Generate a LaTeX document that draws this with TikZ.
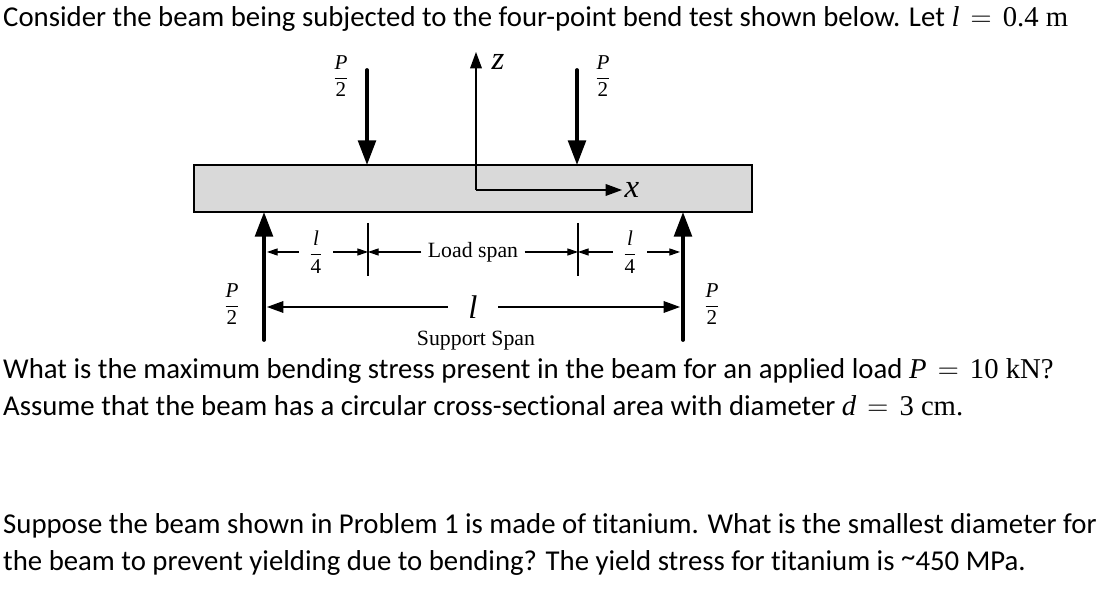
\documentclass[tikz,border=0pt]{standalone}
\usepackage{tkz-euclide}
\usepackage{fontspec}
\usetikzlibrary{arrows.meta}
\setmainfont[Ligatures=NoCommon]{Carlito}
\newfontfamily\serifdgm{Liberation Serif}
\newcommand{\halfP}{$\displaystyle\frac{\hbox{\serifdgm\itshape P}}{\hbox{\serifdgm 2}}$}
\newcommand{\quartl}{$\displaystyle\frac{\hbox{\serifdgm\itshape l}}{\hbox{\serifdgm 4}}$}
\newcommand{\eqtxt}[2]{{\fontsize{24.5}{28}\selectfont\serifdgm\itshape #1\hspace{9.5pt}\upshape$=$\hspace{9.5pt}#2}}
\tikzset{
  line/.style={anchor=base west,inner sep=0pt,font=\fontsize{24.55}{28}\selectfont},
  dgm/.style={inner sep=0pt,font=\fontsize{18}{20}\selectfont\serifdgm},
  span text/.style={inner sep=0pt,font=\fontsize{18.6}{20}\selectfont\serifdgm},
  axis label/.style={inner sep=0pt,font=\fontsize{28}{30}\selectfont\serifdgm\itshape},
  load/.style={line width=3.2pt,line cap=round,-{Triangle[length=21pt,width=15pt]}},
  axis/.style={line width=1.1pt,-{Triangle[length=14pt,width=10pt]}},
  dim/.style={line width=0.9pt,-{Triangle[length=9pt,width=6pt]}},
  span/.style={line width=0.9pt,-{Triangle[length=14pt,width=10pt]}},
  tick/.style={line width=1pt}
}
\begin{document}
\begin{tikzpicture}[x=0.03cm,y=0.03cm]
    \useasboundingbox (0,0) rectangle (1104,600);
    % points, y counted from the bottom
    \tkzDefPoints{367/530/A,367/435/Aa,577/530/B,577/435/Ba,
      264/260/C,264/388/Ca,683/260/D,683/388/Da,
      476/410/O,476/548/Z,622/410/X,
      368/377/E,368/324/Ea,578/377/F,578/324/Fa,
      267/348/G,368/348/Ga,578/348/Ha,680/348/H,
      267/293/I,680/293/J}
    \draw[line width=2.1pt,fill=gray!30] (194,388) rectangle (752,435);
    \draw[load] (A) -- (Aa);
    \draw[load] (B) -- (Ba);
    \draw[load] (C) -- (Ca);
    \draw[load] (D) -- (Da);
    \draw[axis] (O) -- (Z);
    \draw[axis] (O) -- (X);
    \node[axis label] (zlab) at (498,538) {z};
    \node[axis label] (xlab) at (632,410) {x};
    \node[dgm] (pa) at (341,524) {\halfP};
    \node[dgm] (pb) at (603,524) {\halfP};
    \node[dgm] (pc) at (232,296) {\halfP};
    \node[dgm] (pd) at (712,296) {\halfP};
    \draw[tick] (E) -- (Ea);
    \draw[tick] (F) -- (Fa);
    \node[dgm,minimum width=1.02cm] (qa) at (316,348) {\quartl};
    \node[dgm,minimum width=1.02cm] (qb) at (630,348) {\quartl};
    \node[span text,minimum width=3.09cm] (ls) at (473,348) {Load span};
    \node[axis label,minimum width=1.5cm] (ll) at (473,293) {l};
    \node[span text] (ss) at (476,259) {Support Span};
    \draw[dim] (qa.west) -- (G);
    \draw[dim] (qa.east) -- (Ga);
    \draw[dim] (ls.west) -- (Ga);
    \draw[dim] (ls.east) -- (Ha);
    \draw[dim] (qb.west) -- (Ha);
    \draw[dim] (qb.east) -- (H);
    \draw[span] (ll.west) -- (I);
    \draw[span] (ll.east) -- (J);
    \node[line] (t1) at (3,573) {Consider the beam being subjected to the four-point bend test shown below. Let \eqtxt{l}{0.4 m}};
    \node[line] (t2) at (3,221) {What is the maximum bending stress present in the beam for an applied load \eqtxt{P}{10 kN?}};
    \node[line] (t3) at (3,184) {Assume that the beam has a circular cross-sectional area with diameter \eqtxt{d}{3 cm.}};
    \node[line] (t4) at (3,66) {Suppose the beam shown in Problem 1 is made of titanium. What is the smallest diameter for};
    \node[line] (t5) at (3,29) {the beam to prevent yielding due to bending? The yield stress for titanium is \raisebox{0.3ex}{\textasciitilde}450 MPa.};
  \end{tikzpicture}
\end{document}
